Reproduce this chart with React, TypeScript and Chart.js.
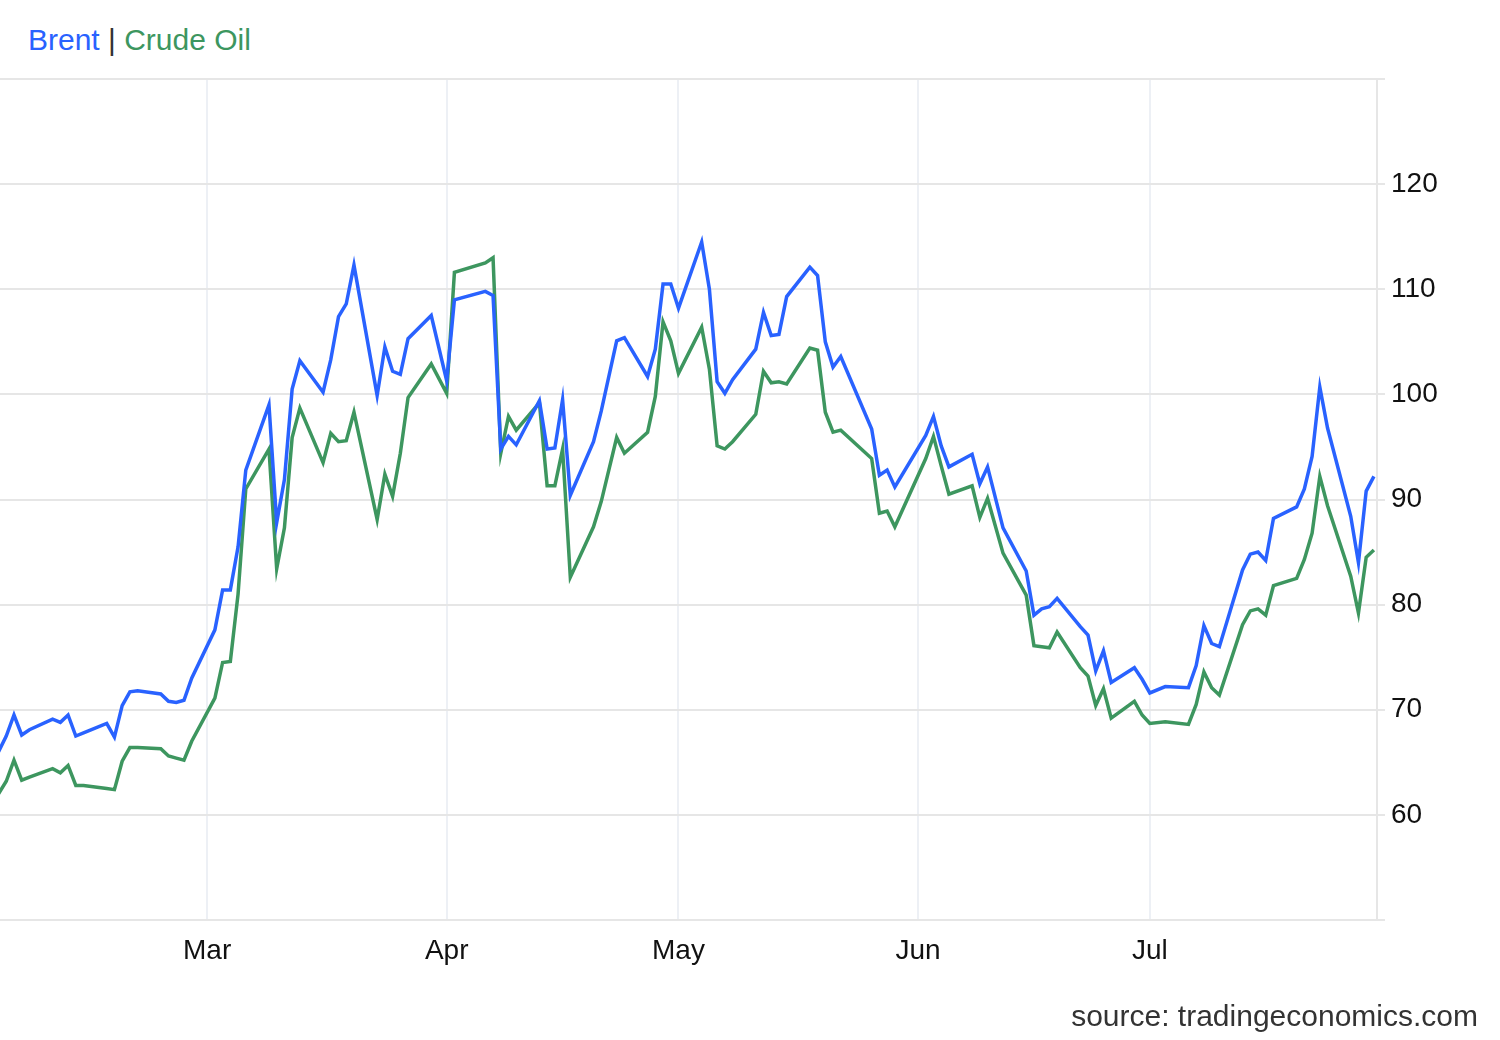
import React, { useEffect, useRef } from "react";
import { Chart, registerables } from "chart.js";

Chart.register(...registerables);

// trading days, counted from Jan 1 (= 0)
const days = [
  32, 33, 34, 35, 36, 39, 40, 41, 42, 43, 46, 47, 48, 49, 50, 53, 54, 55, 56, 57,
  60, 61, 62, 63, 64, 67, 68, 69, 70, 71, 74, 75, 76, 77, 78, 81, 82, 83, 84, 85,
  88, 90, 91, 95, 96, 97, 98, 99, 102, 103, 104, 105, 106, 109, 110, 112, 113,
  116, 117, 118, 119, 120, 123, 124, 125, 126, 127, 130, 131, 132, 133, 134,
  137, 138, 139, 140, 141, 145, 146, 147, 148, 152, 153, 154, 155, 158, 159, 160,
  162, 165, 166, 167, 168, 169, 172, 173, 174, 175, 176, 179, 180, 181, 183,
  186, 187, 188, 189, 190, 193, 194, 195, 196, 197, 200, 201, 202, 203, 204,
  207, 208, 209, 210,
];

const brent = [
  66.0, 67.5, 69.5, 67.6, 68.1, 69.1, 68.8, 69.5, 67.5, 67.8, 68.7, 67.4, 70.4, 71.7, 71.8, 71.5, 70.8, 70.7, 70.9, 73.0,
  77.6, 81.4, 81.4, 85.5, 92.8, 99.0, 87.8, 91.9, 100.5, 103.2, 100.2, 103.3, 107.4, 108.6, 112.3, 99.9, 104.5, 102.2, 101.9, 105.3,
  107.5, 101.3, 109.0, 109.8, 109.4, 94.8, 96.0, 95.2, 99.4, 94.8, 94.9, 99.5, 90.4, 95.5, 98.4, 105.1, 105.4,
  101.7, 104.3, 110.5, 110.5, 108.2, 114.5, 110.0, 101.2, 100.1, 101.4, 104.3, 107.8, 105.6, 105.7, 109.3,
  112.1, 111.3, 105.0, 102.6, 103.6, 96.7, 92.3, 92.8, 91.2, 96.1, 97.9, 95.1, 93.1, 94.3, 91.5, 93.1,
  87.3, 83.2, 79.0, 79.6, 79.8, 80.6, 77.9, 77.1, 73.7, 75.6, 72.6, 74.0, 72.9, 71.6, 72.2,
  72.1, 74.2, 78.0, 76.3, 76.0, 83.3, 84.8, 85.0, 84.2, 88.2, 89.3, 91.0, 94.1, 100.7, 96.8,
  88.4, 84.0, 90.8, 92.2,
];

const crude = [
  62.0, 63.2, 65.2, 63.3, 63.6, 64.4, 64.0, 64.7, 62.8, 62.8, 62.5, 62.4, 65.1, 66.4, 66.4, 66.3, 65.6, 65.4, 65.2, 67.0,
  71.1, 74.5, 74.6, 81.0, 91.0, 94.8, 83.4, 87.3, 95.9, 98.7, 93.5, 96.3, 95.5, 95.6, 98.3, 88.1, 92.4, 90.3, 94.4, 99.7,
  102.9, 100.1, 111.6, 112.5, 113.0, 94.4, 97.9, 96.6, 99.2, 91.3, 91.3, 94.8, 82.6, 87.4, 89.8, 95.9, 94.4,
  96.4, 99.8, 106.9, 105.1, 102.0, 106.4, 102.4, 95.1, 94.8, 95.5, 98.1, 102.2, 101.1, 101.2, 101.0,
  104.4, 104.2, 98.3, 96.4, 96.6, 93.9, 88.7, 88.9, 87.4, 93.9, 96.0, 93.2, 90.5, 91.3, 88.3, 90.1,
  84.9, 80.9, 76.1, 76.0, 75.9, 77.4, 74.0, 73.2, 70.4, 72.0, 69.2, 70.8, 69.5, 68.7, 68.85,
  68.6, 70.5, 73.6, 72.1, 71.4, 78.1, 79.4, 79.6, 79.0, 81.8, 82.5, 84.3, 86.8, 92.2, 89.4,
  82.7, 79.2, 84.5, 85.2,
];

const monthDays = [59, 90, 120, 151, 181];
const monthLabels = ["Mar", "Apr", "May", "Jun", "Jul"];
const yLabels = [60, 70, 80, 90, 100, 110, 120];

const BLUE = "#2962ff";
const GREEN = "#3d965f";
const FONT = '"Liberation Sans", Arial, sans-serif';

export default function App() {
  const canvasRef = useRef<HTMLCanvasElement | null>(null);
  const chartRef = useRef<Chart | null>(null);

  useEffect(() => {
    if (!canvasRef.current) return;
    chartRef.current = new Chart(canvasRef.current, {
      type: "line",
      data: {
        datasets: [
          {
            label: "Brent",
            data: days.map((d, i) => ({ x: d, y: brent[i] })),
            borderColor: BLUE,
            borderWidth: 3.5,
            pointRadius: 0,
            tension: 0,
          },
          {
            label: "Crude Oil",
            data: days.map((d, i) => ({ x: d, y: crude[i] })),
            borderColor: GREEN,
            borderWidth: 3.5,
            pointRadius: 0,
            tension: 0,
          },
        ],
      },
      options: {
        responsive: false,
        animation: false,
        layout: { padding: { top: 79, bottom: 60, left: 0, right: 0 } },
        plugins: { legend: { display: false }, tooltip: { enabled: false } },
        scales: {
          x: {
            type: "linear",
            min: 32.19,
            max: 210.4,
            afterBuildTicks: (scale: any) => {
              scale.ticks = monthDays.map((v) => ({ value: v }));
            },
            afterFit: (scale: any) => {
              scale.height = 60;
            },
            grid: { color: "#edf0f5", lineWidth: 2, drawTicks: false },
            border: { color: "#e6e6e6", width: 2 },
            ticks: {
              padding: 14,
              maxRotation: 0,
              autoSkip: false,
              color: "#111",
              font: { family: FONT, size: 28 },
              callback: (v: any) => monthLabels[monthDays.indexOf(Number(v))] ?? "",
            },
          },
          y: {
            position: "right",
            min: 50,
            max: 130,
            afterFit: (scale: any) => {
              scale.width = 123;
            },
            grid: { color: "#e6e6e6", lineWidth: 2, tickLength: 8 },
            border: { color: "#e6e6e6", width: 2 },
            ticks: {
              stepSize: 10,
              padding: 6,
              color: "#111",
              font: { family: FONT, size: 28 },
              callback: (v: any) => (yLabels.includes(Number(v)) ? String(v) : ""),
            },
          },
        },
      },
    });
    return () => {
      chartRef.current?.destroy();
      chartRef.current = null;
    };
  }, []);

  return (
    <div
      style={{
        position: "absolute",
        left: 0,
        top: 0,
        width: 1500,
        height: 1040,
        background: "#fff",
        fontFamily: FONT,
        overflow: "hidden",
      }}
    >
      <div style={{ position: "absolute", left: 28, top: 23, fontSize: 30, lineHeight: "34px", whiteSpace: "nowrap" }}>
        <span style={{ color: BLUE }}>Brent</span>
        <span style={{ color: "#333" }}> | </span>
        <span style={{ color: GREEN }}>Crude Oil</span>
      </div>
      <canvas ref={canvasRef} width={1500} height={1040} style={{ position: "absolute", left: 0, top: 0 }} />
      <div
        style={{
          position: "absolute",
          right: 22,
          top: 999,
          fontSize: 30,
          lineHeight: "34px",
          color: "#333",
          whiteSpace: "nowrap",
        }}
      >
        source: tradingeconomics.com
      </div>
    </div>
  );
}
